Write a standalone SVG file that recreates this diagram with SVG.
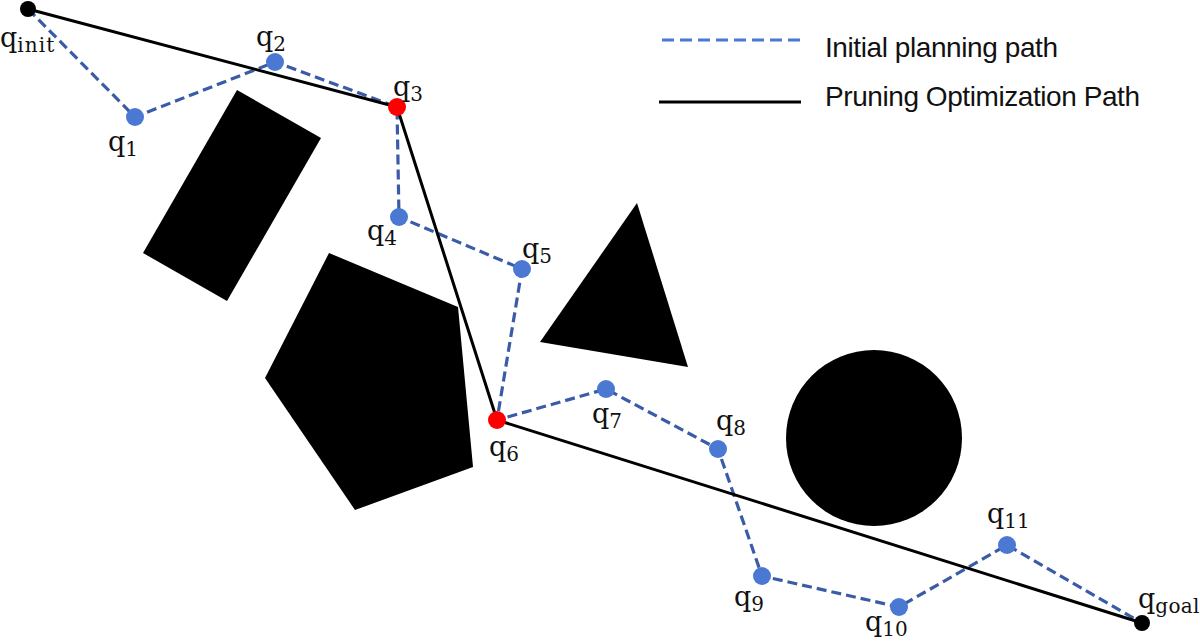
<svg xmlns="http://www.w3.org/2000/svg" width="1200" height="641" viewBox="0 0 1200 641">
<style>
.obs{fill:#000}
.init{fill:none;stroke:#3a5ca8;stroke-width:3.2;stroke-dasharray:10 5}
.prune{fill:none;stroke:#000;stroke-width:3}
.blue{fill:#4a78d2}
.red{fill:#ff0000}
.blk{fill:#000}
.lbl{font-family:"DejaVu Serif","Liberation Serif",serif;font-size:27px;fill:#111}
.sub{font-size:20px}
.leg{font-family:"Liberation Sans",Arial,sans-serif;font-size:28px;fill:#111}
</style>
<rect width="1200" height="641" fill="#fff"/>
<g id="obstacles">
<polygon id="rect" class="obs" points="237,90 321,138 227,301 143,253"/>
<polygon id="pentagon" class="obs" points="329,253 458,307 473,467 355,510 265,378"/>
<polygon id="triangle" class="obs" points="637,203 688,367 540,342"/>
<circle id="circle" class="obs" cx="874" cy="438" r="88"/>
</g>
<g id="connectors">
<polyline class="init" points="28,9 135,117 275,62 397,107 399,217 522,269 497,420 606,389 718,449 762,576 899,607 1007,545 1142,623"/>
<polyline class="prune" points="28,9 397,107 497,420 1142,623"/>
</g>
<g id="qinit"><circle class="blk" cx="28" cy="9" r="8"/><text class="lbl" x="0" y="47">q<tspan class="sub" dy="5" textLength="37">init</tspan></text></g>
<g id="q1"><circle class="blue" cx="135" cy="117" r="9"/><text class="lbl" x="108" y="151">q<tspan class="sub" dy="5">1</tspan></text></g>
<g id="q2"><circle class="blue" cx="275" cy="62" r="9"/><text class="lbl" x="256" y="46">q<tspan class="sub" dy="5">2</tspan></text></g>
<g id="q3"><circle class="red" cx="397" cy="107" r="9"/><text class="lbl" x="393" y="96">q<tspan class="sub" dy="5">3</tspan></text></g>
<g id="q4"><circle class="blue" cx="399" cy="217" r="9"/><text class="lbl" x="367" y="240">q<tspan class="sub" dy="5">4</tspan></text></g>
<g id="q5"><circle class="blue" cx="522" cy="269" r="9"/><text class="lbl" x="522" y="258">q<tspan class="sub" dy="5">5</tspan></text></g>
<g id="q6"><circle class="red" cx="497" cy="420" r="9"/><text class="lbl" x="489" y="456">q<tspan class="sub" dy="5">6</tspan></text></g>
<g id="q7"><circle class="blue" cx="606" cy="389" r="9"/><text class="lbl" x="592" y="423">q<tspan class="sub" dy="5">7</tspan></text></g>
<g id="q8"><circle class="blue" cx="718" cy="449" r="9"/><text class="lbl" x="716" y="430">q<tspan class="sub" dy="5">8</tspan></text></g>
<g id="q9"><circle class="blue" cx="762" cy="576" r="9"/><text class="lbl" x="734" y="606">q<tspan class="sub" dy="5">9</tspan></text></g>
<g id="q10"><circle class="blue" cx="899" cy="607" r="9"/><text class="lbl" x="865" y="631">q<tspan class="sub" dy="5">10</tspan></text></g>
<g id="q11"><circle class="blue" cx="1007" cy="545" r="9"/><text class="lbl" x="987" y="523">q<tspan class="sub" dy="5">11</tspan></text></g>
<g id="qgoal"><circle class="blk" cx="1142" cy="623" r="8"/><text class="lbl" x="1138" y="608">q<tspan class="sub" dy="5" textLength="44">goal</tspan></text></g>
<g id="legend">
<line x1="662" y1="40" x2="805" y2="40" stroke="#4a78d2" stroke-width="3" stroke-dasharray="12 6"/>
<text class="leg" x="825" y="57" textLength="233">Initial planning path</text>
<line x1="659" y1="102" x2="801" y2="102" stroke="#000" stroke-width="3"/>
<text class="leg" x="825" y="106" textLength="315">Pruning Optimization Path</text>
</g>
</svg>
